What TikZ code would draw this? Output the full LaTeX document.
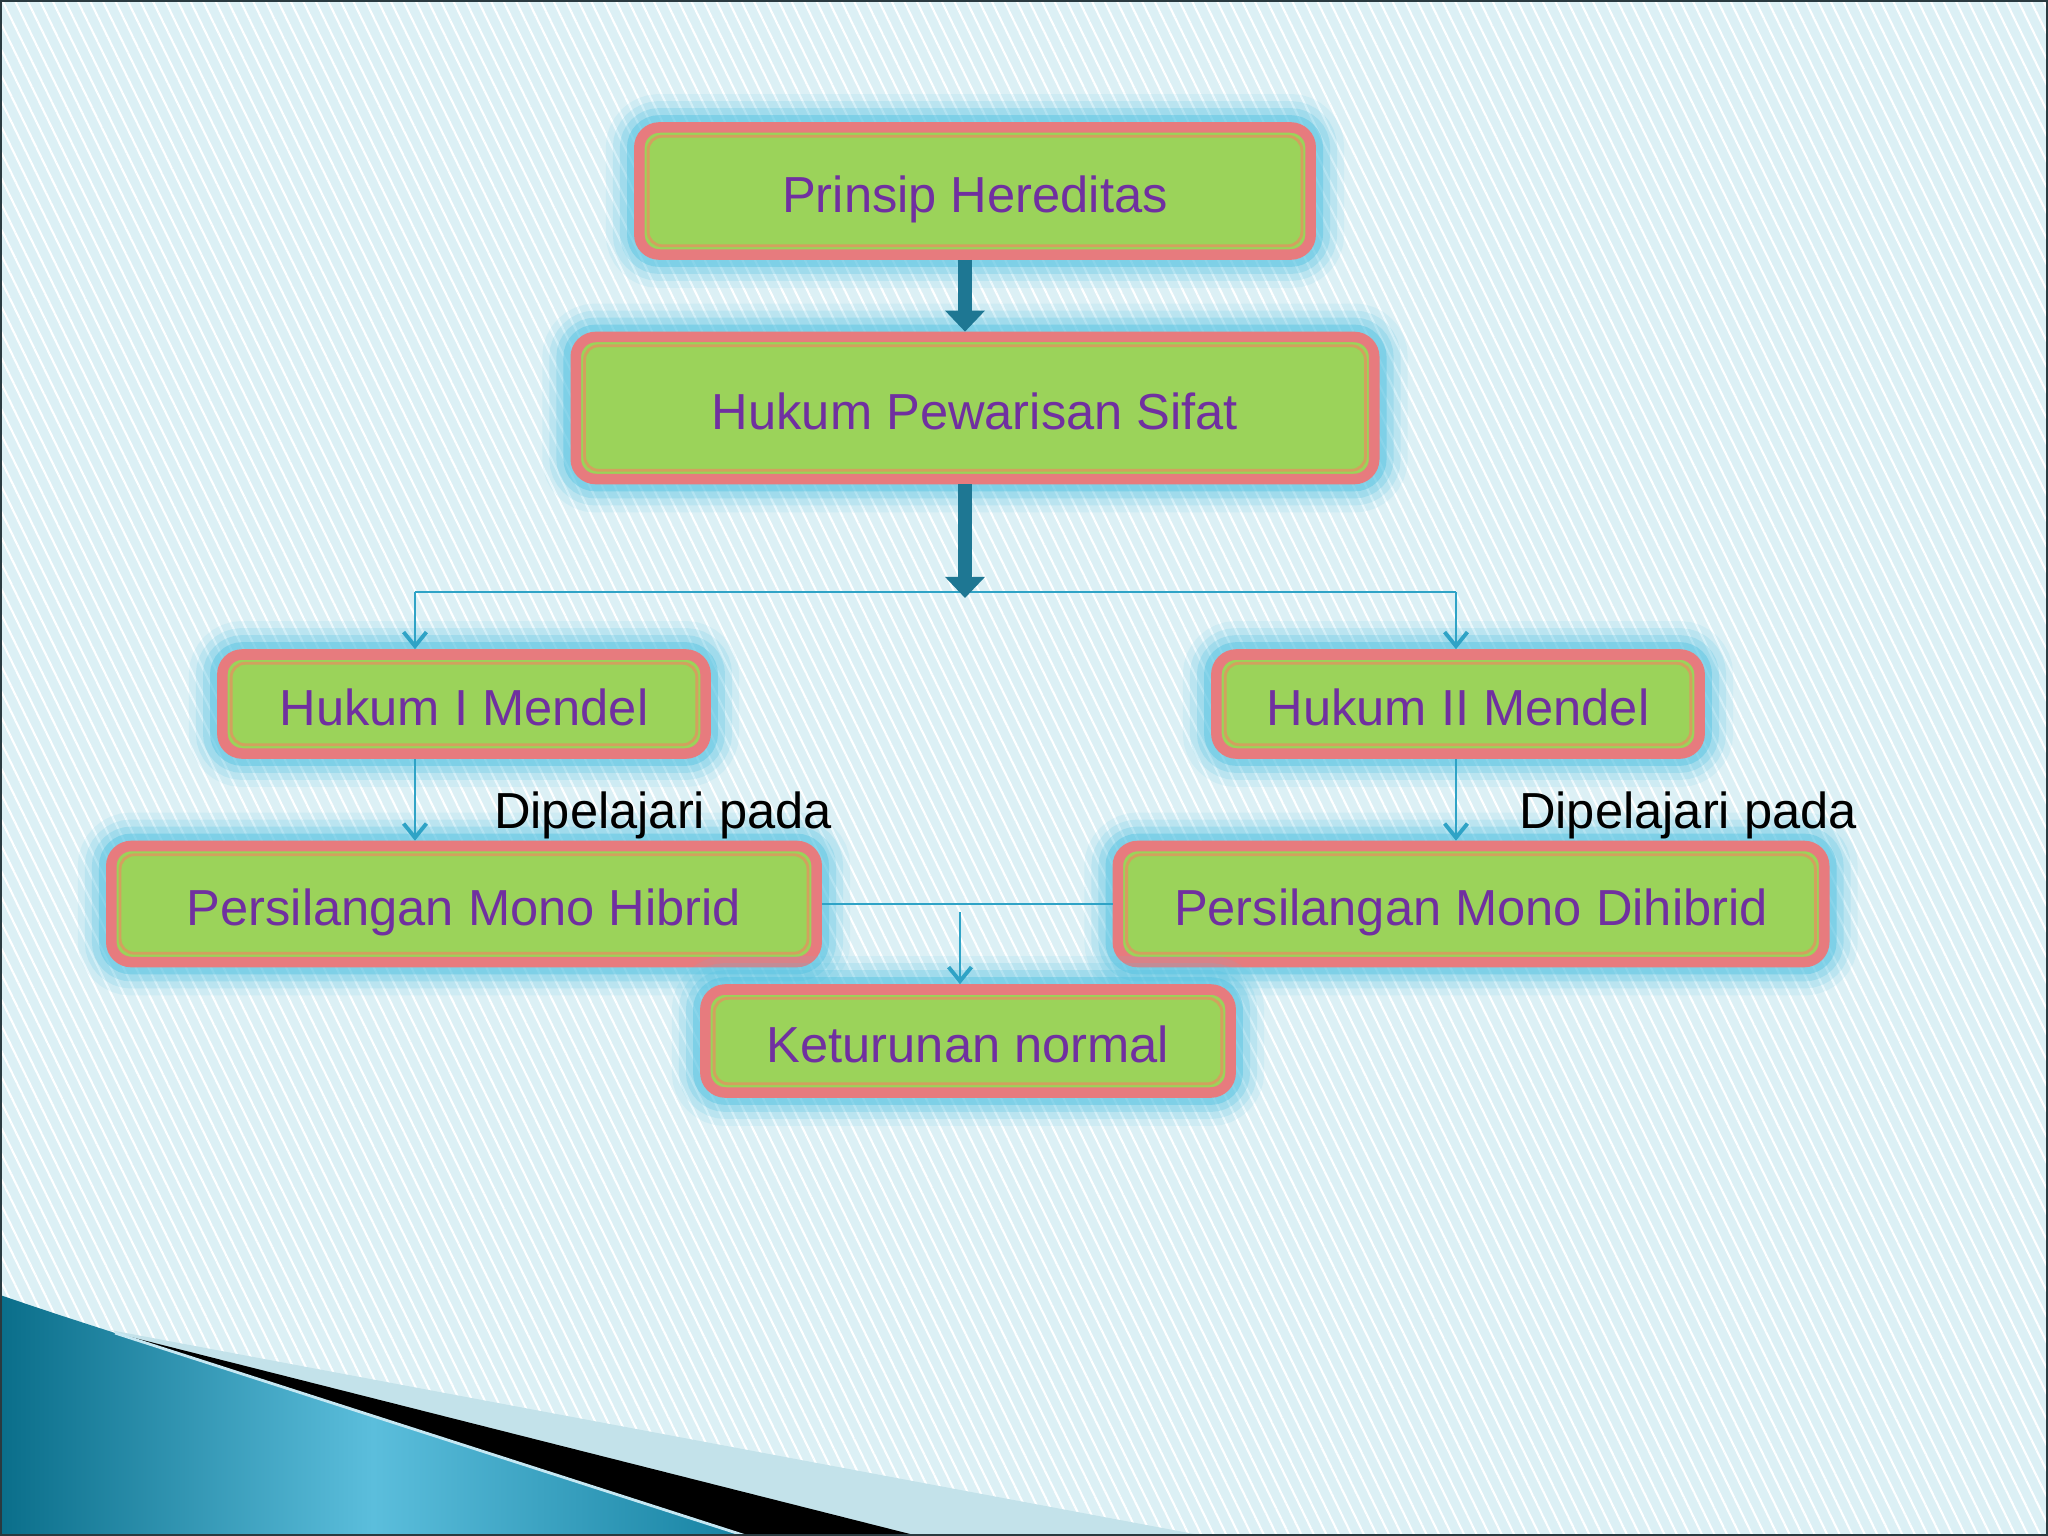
\documentclass[tikz,border=0pt]{standalone}
\usepackage{fontspec}
\setmainfont{Liberation Sans}
\usepackage{tikz}
\usetikzlibrary{arrows.meta,calc,positioning,patterns.meta}
\usepackage{xcolor}
\definecolor{slidebg}{HTML}{DCF0F5}
\definecolor{boxfill}{HTML}{9BD35A}
\definecolor{boxedge}{HTML}{E77B7E}
\definecolor{boxinner}{HTML}{D2A15E}
\definecolor{glowblue}{HTML}{55C3E2}
\definecolor{textpurple}{HTML}{7030A0}
\definecolor{arrowteal}{HTML}{1E7793}
\definecolor{linkblue}{HTML}{2FA3C6}
\definecolor{tealdark}{HTML}{0A6E8A}
\definecolor{teallight}{HTML}{5BBEDC}
\definecolor{tealmid}{HTML}{1682A2}
\definecolor{bandblue}{HTML}{C3E2EA}
\definecolor{slideframe}{HTML}{2A3A40}

\tikzset{
  concept/.style={rectangle, rounded corners=0.2cm, fill=boxfill, draw=boxedge,
    line width=3pt, text=textpurple, inner sep=0pt,
    font=\fontsize{14.4}{17}\selectfont, text height=15.4pt, text depth=3pt,
    preaction={draw=glowblue, line width=19pt, opacity=0.10},
    preaction={draw=glowblue, line width=15pt, opacity=0.16},
    preaction={draw=glowblue, line width=11pt, opacity=0.25},
    preaction={draw=glowblue, line width=7pt, opacity=0.45}},
  innerline/.style={draw=boxinner, line width=0.8pt, rounded corners=0.14cm},
  note/.style={font=\fontsize{14.4}{17}\selectfont, anchor=base},
  bigarrow/.style={arrowteal, line width=4pt, -{Triangle[width=11pt,length=6pt]}},
  link/.style={linkblue, line width=0.7pt},
  linkarrow/.style={link, -{Straight Barb[width=6.5pt,length=4pt,line width=1.1pt]}}
}

\begin{document}
\begin{tikzpicture}[x=0.01cm,y=-0.01cm]
  \useasboundingbox (0,0) rectangle (2048,1536);
  \fill[slidebg] (0,0) rectangle (2048,1536);
  \fill[pattern={Lines[angle=-64,distance=3.2pt,line width=0.6pt]}, pattern color=white,
    fill opacity=0.3] (0,0) rectangle (2048,1536);

  % corner decoration
  \fill[bandblue] (110,1330) -- (1205,1536) -- (700,1536) -- cycle;
  \fill[black] (115,1333) -- (918,1536) -- (746,1536) -- cycle;
  \shade[left color=tealdark, right color=tealmid, middle color=teallight]
    (0,1295) .. controls (50,1312) .. (115,1333) -- (746,1536) -- (0,1536) -- cycle;
  \draw[white!65!teallight, line width=0.8pt] (115,1333) -- (746,1536);
  \draw[slideframe, line width=0.6pt] (1,1) rectangle (2047,1535);

  \node[concept, minimum width=6.71cm, minimum height=1.27cm] (prinsip) at (975,191) {Prinsip Hereditas};
  \node[concept, minimum width=7.98cm, minimum height=1.42cm] (hukum) at (975,408) {Hukum Pewarisan Sifat};
  \node[concept, minimum width=4.83cm, minimum height=0.99cm] (mendelI) at (464,704) {Hukum I Mendel};
  \node[concept, minimum width=4.83cm, minimum height=0.99cm] (mendelII) at (1458,704) {Hukum II Mendel};
  \node[concept, minimum width=7.05cm, minimum height=1.16cm] (monohib) at (464,904) {Persilangan Mono Hibrid};
  \node[concept, minimum width=7.06cm, minimum height=1.16cm] (dihib) at (1471,904) {Persilangan Mono Dihibrid};
  \node[concept, minimum width=5.25cm, minimum height=1.03cm] (keturunan) at (968,1041) {Keturunan normal};
  \foreach \n in {prinsip,hukum,mendelI,mendelII,monohib,dihib,keturunan}
    \draw[innerline] ([shift={(4pt,4pt)}]\n.south west) rectangle ([shift={(-4pt,-4pt)}]\n.north east);

  \node[note] (lblL) at (663,828) {Dipelajari pada};
  \node[note] (lblR) at (1688,828) {Dipelajari pada};

  \coordinate (split) at (965,598);
  \coordinate (lbranch) at (415,592);
  \coordinate (rbranch) at (1456,592);
  \coordinate (join) at (960,912);

  \draw[bigarrow] (prinsip.south -| split) -- (hukum.north -| split);
  \draw[link] (lbranch) -- (rbranch);
  \draw[bigarrow] (hukum.south -| split) -- (split);
  \draw[linkarrow] (lbranch) -- (lbranch |- mendelI.north);
  \draw[linkarrow] (rbranch) -- (rbranch |- mendelII.north);
  \draw[linkarrow] (lbranch |- mendelI.south) -- (lbranch |- monohib.north);
  \draw[linkarrow] (rbranch |- mendelII.south) -- (rbranch |- dihib.north);
  \draw[link] (monohib.east) -- (dihib.west);
  \draw[linkarrow] (join) -- (join |- keturunan.north);
\end{tikzpicture}
\end{document}
